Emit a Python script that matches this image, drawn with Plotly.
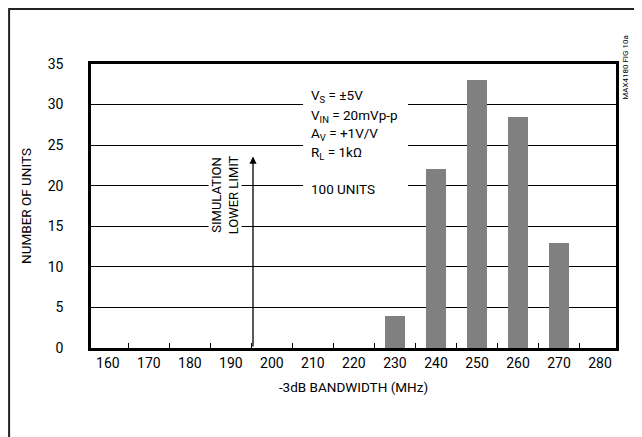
import plotly.graph_objects as go

# histogram of -3dB bandwidth across 100 units
bandwidth_mhz = [230, 240, 250, 260, 270]
units = [4, 22, 33, 28.5, 13]

x_tick_vals = list(range(160, 290, 10))
y_tick_vals = list(range(0, 40, 5))

conditions = [
    "V<sub>S</sub> = ±5V",
    "V<sub>IN</sub> = 20mVp-p",
    "A<sub>V</sub> = +1V/V",
    "R<sub>L</sub> = 1kΩ",
]
sample_note = "100 UNITS"

FONT = "Roboto, Liberation Sans, sans-serif"

fig = go.Figure(go.Bar(
    x=bandwidth_mhz,
    y=units,
    width=4.9,
    marker=dict(color="#808080", line=dict(width=0)),
))

# white box behind the condition text (breaks the grid lines)
fig.add_shape(
    type="rect", xref="x", yref="y", x0=207.6, x1=233.2, y0=18.6, y1=32.4,
    fillcolor="white", line=dict(width=0), layer="above",
)

# simulation lower limit arrow
fig.add_annotation(
    x=195.4, y=23.6, ax=195.4, ay=0, xref="x", yref="y", axref="x", ayref="y",
    text="", showarrow=True, arrowhead=2, arrowsize=1.1, arrowwidth=1.3,
    arrowcolor="black",
)
fig.add_annotation(
    x=188.5, y=18.9, xref="x", yref="y",
    text="SIMULATION<br>LOWER LIMIT", textangle=-90, showarrow=False,
    bgcolor="white", font=dict(size=13, color="black"), borderpad=0,
)

for text, yv in zip(conditions, [31.0, 28.6, 26.35, 24.0]):
    fig.add_annotation(
        x=209.1, y=yv, xref="x", yref="y", xanchor="left", yanchor="middle",
        text=text, showarrow=False, font=dict(size=13.5, color="black"),
    )
fig.add_annotation(
    x=209.1, y=19.6, xref="x", yref="y", xanchor="left", yanchor="middle",
    text=sample_note, showarrow=False, font=dict(size=13.5, color="black"),
)

fig.add_annotation(
    x=1.019, y=0.99, xref="paper", yref="paper", xanchor="center", yanchor="middle",
    text="MAX4180 FIG 10a", textangle=-90, showarrow=False,
    font=dict(size=8, color="black"),
)

# outer frame
fig.add_shape(
    type="rect", xref="paper", yref="paper",
    x0=-0.156, y0=-0.6, x1=1.3, y1=1.194,
    line=dict(color="#222222", width=2), layer="below",
)

fig.update_xaxes(
    range=[155.9, 283.9],
    tickvals=x_tick_vals,
    ticks="",
    showgrid=False,
    zeroline=False,
    automargin=False,
    showline=True, mirror=True, linecolor="black", linewidth=2.5,
    minor=dict(tick0=165, dtick=10, ticks="inside", ticklen=5,
               tickcolor="black", tickwidth=1, showgrid=False),
    tickfont=dict(size=14, color="black"),
    title=dict(text="-3dB BANDWIDTH (MHz)", font=dict(size=13.5, color="black"),
               standoff=14),
)
fig.update_yaxes(
    range=[0, 35],
    tickvals=y_tick_vals,
    ticks="",
    showgrid=True, gridcolor="black", gridwidth=1,
    zeroline=False,
    automargin=False,
    showline=True, mirror=True, linecolor="black", linewidth=2.5,
    ticklabelstandoff=22,
    tickfont=dict(size=14, color="black"),
    title=dict(text="NUMBER OF UNITS", font=dict(size=13.5, color="black"),
               standoff=13),
)

fig.update_layout(
    width=642, height=437,
    margin=dict(l=83, r=34, t=56, b=97),
    plot_bgcolor="white", paper_bgcolor="white",
    font=dict(family=FONT, color="black"),
    showlegend=False,
    bargap=0,
)

fig.write_html("out.html")
